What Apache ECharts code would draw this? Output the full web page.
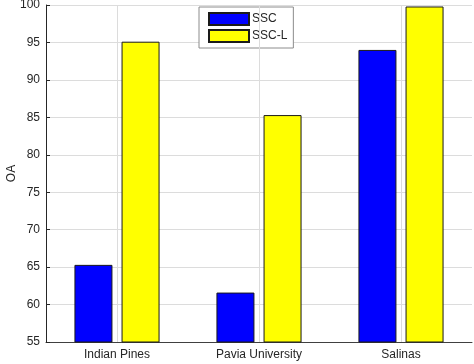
<!DOCTYPE html>
<html>
<head>
<meta charset="utf-8">
<script src="https://cdn.jsdelivr.net/npm/echarts@6/dist/echarts.min.js"></script>
<style>html,body{margin:0;padding:0;background:#fff}#c{width:474px;height:364px}</style>
</head>
<body>
<div id="c"></div>
<script>
var categories = ['Indian Pines', 'Pavia University', 'Salinas'];
var sscValues = [65.3, 61.6, 94.0];
var sscLValues = [95.1, 85.3, 99.8];
var yTicks = {min: 55, max: 100, interval: 5};

var chart = echarts.init(document.getElementById('c'));
var font = 'Liberation Sans, Arial, Helvetica, sans-serif';
chart.setOption({
  animation: false,
  backgroundColor: '#fff',
  grid: {left: 46, right: 2, top: 5, bottom: 22, containLabel: false, outerBoundsMode: 'none'},
  legend: {
    orient: 'vertical', left: 199, top: 7,
    icon: 'rect',
    itemWidth: 40, itemHeight: 12, itemGap: 3,
    padding: [5, 6, 5, 9],
    backgroundColor: '#fff', borderColor: '#8c8c8c', borderWidth: 1,
    textStyle: {fontFamily: font, fontSize: 12, color: '#262626', padding: [0, 0, 0, -2]},
    data: ['SSC', 'SSC-L']
  },
  xAxis: {
    type: 'category', data: categories, boundaryGap: true,
    axisLine: {lineStyle: {color: '#404040', width: 1}},
    axisTick: {show: true, inside: true, alignWithLabel: true, length: 4, lineStyle: {color: '#404040'}},
    axisLabel: {fontFamily: font, fontSize: 12, color: '#262626', margin: 7},
    splitLine: {show: false}
  },
  yAxis: {
    type: 'value', min: yTicks.min, max: yTicks.max, interval: yTicks.interval,
    name: 'OA', nameLocation: 'middle', nameGap: 28, nameRotate: 90,
    nameMoveOverlap: false,
    nameTextStyle: {fontFamily: font, fontSize: 12, color: '#262626'},
    axisLine: {show: true, lineStyle: {color: '#262626', width: 1}},
    axisTick: {show: true, inside: true, length: 4, lineStyle: {color: '#262626'}},
    axisLabel: {fontFamily: font, fontSize: 12, color: '#262626', margin: 6},
    splitLine: {show: true, lineStyle: {color: '#dcdcdc', width: 1}}
  },
  series: [
    {
      name: 'grid-x', type: 'line', data: [], silent: true,
      markLine: {
        silent: true, symbol: 'none', label: {show: false},
        lineStyle: {color: '#dcdcdc', type: 'solid', width: 1},
        data: categories.map(function (c) { return {xAxis: c}; })
      },
      z: 1
    },
    {
      name: 'SSC', type: 'bar', data: sscValues,
      barWidth: 38, barGap: '24%',
      itemStyle: {color: '#0000ff', borderColor: '#1a1a1a', borderWidth: 1},
      z: 2
    },
    {
      name: 'SSC-L', type: 'bar', data: sscLValues,
      barWidth: 38,
      itemStyle: {color: '#ffff00', borderColor: '#1a1a1a', borderWidth: 1},
      z: 2
    }
  ]
});
</script>
</body>
</html>
